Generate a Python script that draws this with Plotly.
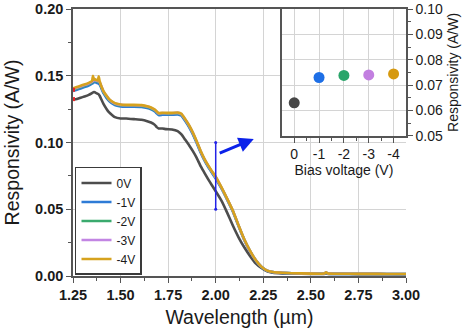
import plotly.graph_objects as go

# Spectral responsivity under reverse bias
wavelength_um = [1.25, 1.27, 1.29, 1.31, 1.33, 1.35, 1.355, 1.36, 1.365, 1.37,
                 1.38, 1.385, 1.39, 1.41, 1.44, 1.47, 1.50, 1.53, 1.57, 1.61,
                 1.64, 1.66, 1.68, 1.69, 1.70, 1.72, 1.74, 1.77, 1.80, 1.82,
                 1.84, 1.86, 1.88, 1.90, 1.92, 1.94, 1.96, 1.98, 2.00, 2.03,
                 2.06, 2.09, 2.12, 2.15, 2.18, 2.21, 2.24, 2.27, 2.30, 2.35,
                 2.40, 2.50, 2.57, 2.58, 2.59, 2.65, 2.75, 2.85, 2.95, 3.00]

resp_0v = [0.1320, 0.1325, 0.1335, 0.1345, 0.1355, 0.1370, 0.1375, 0.1378, 0.1376, 0.1372,
           0.1365, 0.1360, 0.1350, 0.1290, 0.1225, 0.1190, 0.1180, 0.1180, 0.1175, 0.1170,
           0.1160, 0.1150, 0.1132, 0.1115, 0.1105, 0.1105, 0.1100, 0.1098, 0.1085, 0.1060,
           0.1020, 0.0980, 0.0935, 0.0885, 0.0825, 0.0775, 0.0725, 0.0680, 0.0635, 0.0565,
           0.0475, 0.0378, 0.0290, 0.0215, 0.0150, 0.0095, 0.0060, 0.0035, 0.0025, 0.0020,
           0.0018, 0.0016, 0.0016, 0.0022, 0.0016, 0.0015, 0.0014, 0.0014, 0.0013, 0.0013]

resp_m1v = [0.1385, 0.1395, 0.1405, 0.1415, 0.1425, 0.1440, 0.1445, 0.1450, 0.1452, 0.1450,
            0.1445, 0.1440, 0.1435, 0.1370, 0.1310, 0.1280, 0.1270, 0.1268, 0.1268, 0.1266,
            0.1258, 0.1248, 0.1232, 0.1218, 0.1205, 0.1208, 0.1208, 0.1208, 0.1210, 0.1200,
            0.1160, 0.1115, 0.1060, 0.0996, 0.0927, 0.0867, 0.0817, 0.0773, 0.0730, 0.0656,
            0.0572, 0.0483, 0.0374, 0.0270, 0.0186, 0.0117, 0.0068, 0.0039, 0.0029, 0.0023,
            0.0020, 0.0017, 0.0017, 0.0026, 0.0017, 0.0016, 0.0015, 0.0015, 0.0014, 0.0014]

resp_m2v = [0.1395, 0.1405, 0.1415, 0.1425, 0.1435, 0.1450, 0.1458, 0.1460, 0.1462, 0.1460,
            0.1456, 0.1454, 0.1448, 0.1378, 0.1318, 0.1288, 0.1278, 0.1275, 0.1275, 0.1273,
            0.1265, 0.1255, 0.1240, 0.1226, 0.1213, 0.1216, 0.1215, 0.1215, 0.1218, 0.1208,
            0.1168, 0.1123, 0.1068, 0.1003, 0.0934, 0.0874, 0.0824, 0.0779, 0.0737, 0.0661,
            0.0576, 0.0487, 0.0377, 0.0273, 0.0188, 0.0119, 0.0069, 0.0040, 0.0030, 0.0024,
            0.0021, 0.0018, 0.0018, 0.0027, 0.0018, 0.0017, 0.0016, 0.0016, 0.0015, 0.0015]

resp_m3v = [0.1400, 0.1410, 0.1420, 0.1430, 0.1440, 0.1455, 0.1462, 0.1465, 0.1468, 0.1465,
            0.1460, 0.1458, 0.1453, 0.1382, 0.1322, 0.1292, 0.1282, 0.1279, 0.1279, 0.1277,
            0.1269, 0.1259, 0.1244, 0.1230, 0.1217, 0.1220, 0.1219, 0.1219, 0.1222, 0.1212,
            0.1172, 0.1127, 0.1072, 0.1007, 0.0937, 0.0877, 0.0827, 0.0782, 0.0740, 0.0663,
            0.0578, 0.0489, 0.0379, 0.0274, 0.0189, 0.0120, 0.0070, 0.0040, 0.0030, 0.0024,
            0.0021, 0.0018, 0.0018, 0.0027, 0.0018, 0.0017, 0.0016, 0.0016, 0.0015, 0.0015]

resp_m4v = [0.1405, 0.1415, 0.1425, 0.1435, 0.1445, 0.1460, 0.1500, 0.1470, 0.1475, 0.1470,
            0.1465, 0.1495, 0.1460, 0.1385, 0.1325, 0.1295, 0.1285, 0.1282, 0.1282, 0.1280,
            0.1272, 0.1262, 0.1247, 0.1233, 0.1220, 0.1223, 0.1222, 0.1222, 0.1225, 0.1215,
            0.1175, 0.1130, 0.1075, 0.1010, 0.0940, 0.0880, 0.0830, 0.0785, 0.0744, 0.0665,
            0.0580, 0.0490, 0.0380, 0.0275, 0.0190, 0.0120, 0.0070, 0.0040, 0.0030, 0.0024,
            0.0021, 0.0018, 0.0018, 0.0028, 0.0018, 0.0017, 0.0016, 0.0016, 0.0015, 0.0015]

series_names = ["0V", "-1V", "-2V", "-3V", "-4V"]
line_colors = ["#4d4d4d", "#2e7bd6", "#3aaa6e", "#c285e3", "#d6a21e"]

# Start-of-scan markers on the left edge
start_wl = [1.25, 1.25]
start_resp = [0.1395, 0.1325]

# Responsivity spread at 2.0 um
errbar_wl = [2.00, 2.00]
errbar_resp = [0.05, 0.10]

# Inset: responsivity at 2.0 um vs bias voltage
bias_v = [0, -1, -2, -3, -4]
bias_resp = [0.063, 0.073, 0.0738, 0.074, 0.0744]
dot_colors = ["#474747", "#1e6fe6", "#2aa56a", "#c27fe0", "#d6990f"]

FONT = "Liberation Sans, Arial, sans-serif"
AXIS = "#555555"
GRID = "#d4d4d4"

fig = go.Figure()

for name, ys, col in zip(series_names,
                         [resp_0v, resp_m1v, resp_m2v, resp_m3v, resp_m4v],
                         line_colors):
    fig.add_trace(go.Scatter(x=wavelength_um, y=ys, name=name, mode="lines",
                             line=dict(color=col, width=2.6, shape="spline", smoothing=0.3)))

fig.add_trace(go.Scatter(x=start_wl, y=start_resp, mode="markers", showlegend=False,
                         marker=dict(symbol="square", size=4, color="#e8262a"),
                         cliponaxis=False))

fig.add_trace(go.Scatter(x=errbar_wl, y=errbar_resp, mode="lines+markers", showlegend=False,
                         line=dict(color="#2323e6", width=1.5),
                         marker=dict(size=3, color="#2323e6")))

fig.add_trace(go.Scatter(x=bias_v, y=bias_resp, mode="markers", showlegend=False,
                         marker=dict(size=11, color=dot_colors),
                         xaxis="x2", yaxis="y2"))

fig.add_annotation(x=2.20, y=0.1027, ax=2.013, ay=0.0915, xref="x", yref="y",
                   axref="x", ayref="y", text="", showarrow=True,
                   arrowhead=2, arrowsize=1.0, arrowwidth=3, arrowcolor="#0b22ea")

# White backing for the inset panel
fig.add_shape(type="rect", xref="x2", yref="y2", x0=0.5, x1=-4.5, y0=0.05, y1=0.10,
              fillcolor="white", line=dict(width=0), layer="below")

tickfont_main = dict(family=FONT, size=14.5, color="#1a1a1a", weight="bold")
tickfont_inset = dict(family=FONT, size=14, color="#1a1a1a")

fig.update_layout(
    width=474, height=332,
    margin=dict(l=73, r=68, t=9, b=56),
    paper_bgcolor="white", plot_bgcolor="white",
    font=dict(family=FONT, color="#1a1a1a"),
    showlegend=True,
    legend=dict(x=0.006, y=0.004, xanchor="left", yanchor="bottom",
                bgcolor="white", bordercolor="#3a3a3a", borderwidth=1.5,
                font=dict(family=FONT, size=12, color="#1a1a1a"),
                itemwidth=30, tracegroupgap=0),
    xaxis=dict(domain=[0, 1], range=[1.25, 3.0], tick0=1.25, dtick=0.25, tickformat=".2f",
               showline=True, linecolor=AXIS, linewidth=1.5, mirror=True,
               ticks="outside", ticklen=5, tickwidth=1.2, tickcolor=AXIS,
               minor=dict(ticks="outside", ticklen=3, dtick=0.125, tickcolor=AXIS, showgrid=False),
               showgrid=True, gridcolor=GRID, gridwidth=1, zeroline=False,
               tickfont=tickfont_main, automargin=False,
               title=dict(text="Wavelength (µm)", font=dict(family=FONT, size=19.5), standoff=8)),
    yaxis=dict(domain=[0, 1], range=[0, 0.2], dtick=0.05, tickformat=".2f",
               showline=True, linecolor=AXIS, linewidth=1.5,
               ticks="outside", ticklen=5, tickwidth=1.2, tickcolor=AXIS,
               minor=dict(ticks="outside", ticklen=3, dtick=0.025, tickcolor=AXIS, showgrid=False),
               showgrid=True, gridcolor=GRID, gridwidth=1, zeroline=False,
               tickfont=tickfont_main, automargin=False,
               title=dict(text="Responsivity (A/W)", font=dict(family=FONT, size=19.5), standoff=10)),
    xaxis2=dict(domain=[0.627, 1.0], anchor="y2", range=[0.5, -4.5],
                tickvals=bias_v, ticktext=[str(v) for v in bias_v],
                showline=True, linecolor=AXIS, linewidth=1.5, mirror=True,
                ticks="outside", ticklen=5, tickwidth=1.2, tickcolor=AXIS,
                minor=dict(ticks="outside", ticklen=3, tickvals=[-0.5, -1.5, -2.5, -3.5],
                           tickcolor=AXIS, showgrid=False),
                showgrid=True, gridcolor=GRID, zeroline=False,
                tickfont=tickfont_inset, automargin=False,
                title=dict(text="Bias voltage (V)", font=dict(family=FONT, size=14), standoff=4)),
    yaxis2=dict(domain=[0.525, 1.0], anchor="x2", side="right", range=[0.05, 0.10],
                dtick=0.01, tickformat=".2f",
                showline=True, linecolor=AXIS, linewidth=1.5, mirror=True,
                ticks="outside", ticklen=5, tickwidth=1.2, tickcolor=AXIS,
                minor=dict(ticks="outside", ticklen=3, dtick=0.005, tickcolor=AXIS, showgrid=False),
                showgrid=True, gridcolor=GRID, zeroline=False,
                tickfont=tickfont_inset, automargin=False,
                title=dict(text="Responsivity (A/W)", font=dict(family=FONT, size=14), standoff=6)),
)

fig.write_html("out.html")
